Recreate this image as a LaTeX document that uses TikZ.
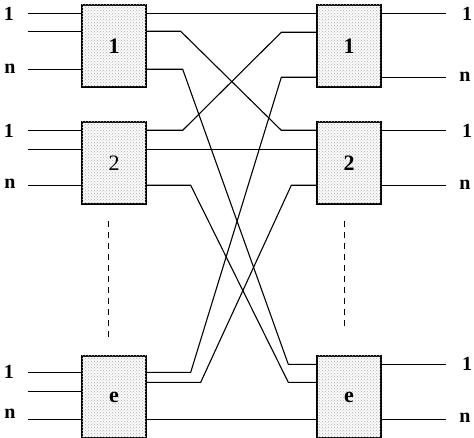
\documentclass[tikz,border=0pt]{standalone}
\usepackage{fontspec}
\setmainfont{Liberation Serif}
\usetikzlibrary{patterns}
\begin{document}
\begin{tikzpicture}[x=1pt,y=-1pt,
  sw/.style={draw,line width=1.4pt,minimum width=64pt,minimum height=82pt,inner sep=0pt,
    fill=gray!4,postaction={pattern=crosshatch dots,pattern color=gray!60},
    font=\fontsize{22}{22}\selectfont\bfseries},
  wire/.style={line width=1.1pt},
  lab/.style={font=\fontsize{20}{20}\selectfont\bfseries,inner sep=0pt}]
\useasboundingbox (0,0) rectangle (474,438);
\clip (0,0) rectangle (474,438);
% boxes
\node[sw] (L1) at (114,46) {1};
\node[sw] (L2) at (114,163) {\mdseries 2};
\node[sw] (Le) at (114,397) {e};
\node[sw] (R1) at (349,46) {1};
\node[sw] (R2) at (349,163) {2};
\node[sw] (Re) at (349,397) {e};
% left labels
\node[lab] (a1) at (9,14) {1};
\node[lab] (a2) at (10,69) {n};
\node[lab] (a3) at (9,131) {1};
\node[lab] (a4) at (10,184) {n};
\node[lab] (a5) at (9,372) {1};
\node[lab] (a6) at (10,414) {n};
% right labels
\node[lab] (b1) at (467,14) {1};
\node[lab] (b2) at (465,77) {n};
\node[lab] (b3) at (467,131) {1};
\node[lab] (b4) at (465,185) {n};
\node[lab] (b5) at (467,364) {1};
\node[lab] (b6) at (465,418) {n};
% left inputs
\foreach \b/\s in {L1/-9,L1/-27,L1/-65,L2/-9,L2/-28,L2/-64,Le/-17,Le/-36,Le/-64}
  \draw[wire] ([yshift=\s pt,xshift=-53pt]\b.north west) -- ([yshift=\s pt]\b.north west);
% right outputs
\foreach \b/\s in {R1/-9,R1/-73,R2/-9,R2/-64,Re/-9,Re/-64}
  \draw[wire] ([yshift=\s pt]\b.north east) -- ([yshift=\s pt,xshift=64pt]\b.north east);
% straight connections
\draw[wire] ([yshift=-9pt]L1.north east) -- ([yshift=-9pt]R1.north west);
\draw[wire] ([yshift=-28pt]L2.north east) -- ([yshift=-28pt]R2.north west);
\draw[wire] ([yshift=-64pt]Le.north east) -- ([yshift=-64pt]Re.north west);
% crossing connections
\draw[wire] ([yshift=-27pt]L1.north east) -- ++(34,0) -- ([yshift=-9pt,xshift=-35pt]R2.north west) -- ([yshift=-9pt]R2.north west);
\draw[wire] ([yshift=-65pt]L1.north east) -- ++(36,0) -- ([yshift=-9pt,xshift=-28pt]Re.north west) -- ([yshift=-9pt]Re.north west);
\draw[wire] ([yshift=-9pt]L2.north east) -- ++(36,0) -- ([yshift=-28pt,xshift=-35pt]R1.north west) -- ([yshift=-28pt]R1.north west);
\draw[wire] ([yshift=-64pt]L2.north east) -- ++(44,0) -- ([yshift=-27pt,xshift=-28pt]Re.north west) -- ([yshift=-27pt]Re.north west);
\draw[wire] ([yshift=-17pt]Le.north east) -- ++(44,0) -- ([yshift=-73pt,xshift=-35pt]R1.north west) -- ([yshift=-73pt]R1.north west);
\draw[wire] ([yshift=-27pt]Le.north east) -- ++(54,0) -- ([yshift=-64pt,xshift=-25pt]R2.north west) -- ([yshift=-64pt]R2.north west);
% dots
\coordinate (d1) at (108,221);
\coordinate (d2) at (108,338);
\coordinate (d3) at (344,221);
\coordinate (d4) at (344,330);
\draw[line width=1pt,dash pattern=on 6pt off 5pt] (d1) -- (d2);
\draw[line width=1pt,dash pattern=on 6pt off 5pt] (d3) -- (d4);
\end{tikzpicture}
\end{document}
